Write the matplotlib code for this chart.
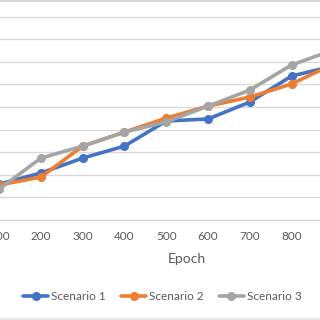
import matplotlib
matplotlib.use("Agg")
import matplotlib.pyplot as plt
from matplotlib.lines import Line2D

epochs = [100, 200, 300, 400, 500, 600, 700, 800, 900]
tick_labels = ["100", "200", "300", "400", "500", "600", "700", "800", "900"]
scenario1 = [15.9, 20.8, 27.4, 32.7, 43.8, 44.7, 52.2, 63.7, 68.1]
scenario2 = [15.5, 19.0, 32.7, 38.9, 45.1, 50.4, 54.4, 60.2, 69.0]
scenario3 = [13.7, 27.4, 32.7, 38.9, 43.4, 50.4, 57.5, 68.6, 75.2]
names = ["Scenario 1", "Scenario 2", "Scenario 3"]
colors = ["#4472C4", "#ED7D31", "#A5A5A5"]

plt.rcParams['font.family'] = ['Lato', 'DejaVu Sans']

W = H = 320
fig = plt.figure(figsize=(3.2, 3.2), dpi=100)
left_px, right_px = -21.7, 396.0
bottom_px, top_px = 220.0, -6.0
ax = fig.add_axes([left_px / W, (H - bottom_px) / H,
                   (right_px - left_px) / W, (bottom_px - top_px) / H])

for vals, name, c in zip([scenario1, scenario2, scenario3], names, colors):
    ax.plot(epochs, vals, color=c, lw=2.6, marker='o', ms=5.5,
            markeredgecolor=c, label=name, solid_capstyle='round')

ax.set_xlim(50, 1050)
ax.set_ylim(0, 100)
ax.set_yticks(range(0, 101, 10))
ax.set_xticks(epochs)
ax.set_xticklabels(tick_labels)
ax.grid(axis='y', color='#D9D9D9', lw=1.0)
ax.set_axisbelow(True)
for s in ['top', 'right', 'left']:
    ax.spines[s].set_visible(False)
ax.spines['bottom'].set_color('#D9D9D9')
ax.spines['bottom'].set_linewidth(1.0)
ax.tick_params(axis='x', length=0, labelsize=8.5, colors='#595959', pad=8)
ax.tick_params(axis='y', length=0, labelleft=False)
ax.set_xlabel("Epoch", fontsize=10, color='#595959', labelpad=8)

fig.legend(loc='center', bbox_to_anchor=(162.5 / W, (H - 297) / H),
           ncol=3, frameon=False, fontsize=8.5, labelcolor='#595959',
           handlelength=2.1, handletextpad=0.25, columnspacing=1.3)

fig.add_artist(Line2D([0, 1], [1 - 1 / H, 1 - 1 / H], transform=fig.transFigure,
                      color='#D9D9D9', lw=1.5))
fig.add_artist(Line2D([0, 1], [1.5 / H, 1.5 / H], transform=fig.transFigure,
                      color='#E6E6E6', lw=2.5))

fig.savefig("out.png", dpi=100)
